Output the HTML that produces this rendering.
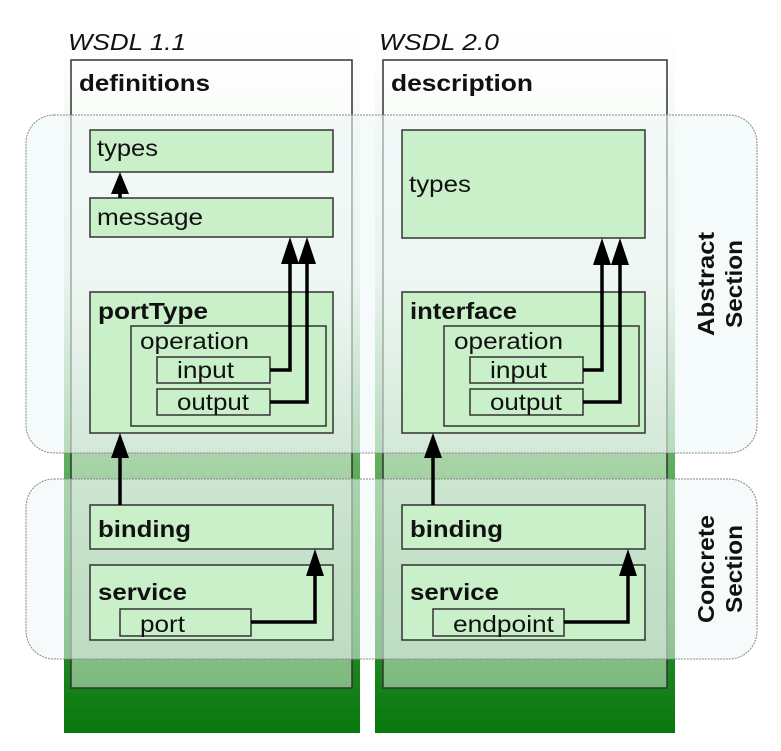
<!DOCTYPE html>
<html><head><style>
body{margin:0;width:781px;height:751px;background:#fff;overflow:hidden}
svg{display:block}
text{font-family:"Liberation Sans",sans-serif;fill:#111}
</style></head><body>
<svg width="781" height="751" viewBox="0 0 781 751">
<defs>
<linearGradient id="g" x1="0" y1="0" x2="0" y2="1">
<stop offset="0" stop-color="#ffffff"/>
<stop offset="0.35" stop-color="#e2f1e2"/>
<stop offset="0.6" stop-color="#64b164"/>
<stop offset="0.8" stop-color="#2e952f"/>
<stop offset="1" stop-color="#08780e"/>
</linearGradient>
</defs>
<rect x="64" y="30" width="296" height="703" fill="url(#g)"/>
<rect x="375" y="30" width="300" height="703" fill="url(#g)"/>
<rect x="71" y="60" width="281" height="628" fill="rgba(255,255,255,0.45)" stroke="#333" stroke-width="1.5"/>
<rect x="383" y="60" width="284" height="628" fill="rgba(255,255,255,0.45)" stroke="#333" stroke-width="1.5"/>
<rect x="26" y="115" width="731" height="338" rx="28" fill="rgba(238,246,246,0.6)" stroke="#888" stroke-dasharray="2,1"/>
<rect x="26" y="479" width="731" height="180" rx="28" fill="rgba(238,246,246,0.55)" stroke="#888" stroke-dasharray="2,1"/>
<text x="68" y="50" font-size="23" font-style="italic" textLength="118" lengthAdjust="spacingAndGlyphs">WSDL 1.1</text>
<text x="379" y="50" font-size="23" font-style="italic" textLength="120" lengthAdjust="spacingAndGlyphs">WSDL 2.0</text>
<text x="79" y="91" font-size="23" font-weight="bold" textLength="131" lengthAdjust="spacingAndGlyphs">definitions</text>
<text x="391" y="91" font-size="23" font-weight="bold" textLength="142" lengthAdjust="spacingAndGlyphs">description</text>
<g fill="#c9f0c9" stroke="#333" stroke-width="1.5">
<rect x="90" y="130" width="243" height="42"/>
<rect x="90" y="198" width="243" height="39"/>
<rect x="90" y="292" width="243" height="141"/>
<rect x="131" y="326" width="195" height="100"/>
<rect x="157" y="357" width="113" height="26"/>
<rect x="157" y="389" width="113" height="26"/>
<rect x="90" y="505" width="243" height="44"/>
<rect x="90" y="565" width="243" height="75"/>
<rect x="120" y="609" width="131" height="27"/>
<rect x="402" y="130" width="243" height="108"/>
<rect x="402" y="292" width="243" height="141"/>
<rect x="444" y="326" width="195" height="100"/>
<rect x="470" y="357" width="113" height="26"/>
<rect x="470" y="389" width="113" height="26"/>
<rect x="402" y="505" width="243" height="44"/>
<rect x="402" y="565" width="243" height="75"/>
<rect x="433" y="609" width="131" height="27"/>
</g>
<g font-size="23" lengthAdjust="spacingAndGlyphs">
<text x="97" y="156" textLength="61" lengthAdjust="spacingAndGlyphs">types</text>
<text x="97" y="225" textLength="106" lengthAdjust="spacingAndGlyphs">message</text>
<text x="98" y="319" font-weight="bold" textLength="110" lengthAdjust="spacingAndGlyphs">portType</text>
<text x="140" y="349" textLength="109" lengthAdjust="spacingAndGlyphs">operation</text>
<text x="177" y="378" textLength="57" lengthAdjust="spacingAndGlyphs">input</text>
<text x="177" y="410" textLength="72" lengthAdjust="spacingAndGlyphs">output</text>
<text x="98" y="537" font-weight="bold" textLength="93" lengthAdjust="spacingAndGlyphs">binding</text>
<text x="98" y="600" font-weight="bold" textLength="89" lengthAdjust="spacingAndGlyphs">service</text>
<text x="140" y="632" textLength="45" lengthAdjust="spacingAndGlyphs">port</text>
<text x="409" y="192" textLength="62" lengthAdjust="spacingAndGlyphs">types</text>
<text x="410" y="319" font-weight="bold" textLength="107" lengthAdjust="spacingAndGlyphs">interface</text>
<text x="454" y="349" textLength="109" lengthAdjust="spacingAndGlyphs">operation</text>
<text x="490" y="378" textLength="57" lengthAdjust="spacingAndGlyphs">input</text>
<text x="490" y="410" textLength="72" lengthAdjust="spacingAndGlyphs">output</text>
<text x="410" y="537" font-weight="bold" textLength="93" lengthAdjust="spacingAndGlyphs">binding</text>
<text x="410" y="600" font-weight="bold" textLength="89" lengthAdjust="spacingAndGlyphs">service</text>
<text x="453" y="632" textLength="101" lengthAdjust="spacingAndGlyphs">endpoint</text>
</g>
<g fill="none" stroke="#000" stroke-width="3.5">
<line x1="120" y1="198" x2="120" y2="185"/>
<polyline points="270,370 290,370 290,260"/>
<polyline points="270,402 307,402 307,260"/>
<line x1="120" y1="505" x2="120" y2="455"/>
<polyline points="251,622 315,622 315,572"/>
<polyline points="583,370 602,370 602,262"/>
<polyline points="583,402 620,402 620,262"/>
<line x1="433" y1="505" x2="433" y2="455"/>
<polyline points="564,622 628,622 628,572"/>
</g>
<g fill="#000">
<polygon points="120,172 111,194 129,194"/>
<polygon points="290,237 281,264 299,264"/>
<polygon points="307,237 298,264 316,264"/>
<polygon points="120,433 111,458 129,458"/>
<polygon points="315,549 306,576 324,576"/>
<polygon points="602,238 593,265 611,265"/>
<polygon points="620,238 611,265 629,265"/>
<polygon points="433,433 424,458 442,458"/>
<polygon points="628,549 619,576 637,576"/>
</g>
<g font-size="23" font-weight="bold">
<text transform="translate(714,284) rotate(-90)" text-anchor="middle" textLength="104" lengthAdjust="spacingAndGlyphs">Abstract</text>
<text transform="translate(742,284) rotate(-90)" text-anchor="middle" textLength="88" lengthAdjust="spacingAndGlyphs">Section</text>
<text transform="translate(714,569) rotate(-90)" text-anchor="middle" textLength="108" lengthAdjust="spacingAndGlyphs">Concrete</text>
<text transform="translate(742,569) rotate(-90)" text-anchor="middle" textLength="88" lengthAdjust="spacingAndGlyphs">Section</text>
</g>
</svg>
</body></html>
